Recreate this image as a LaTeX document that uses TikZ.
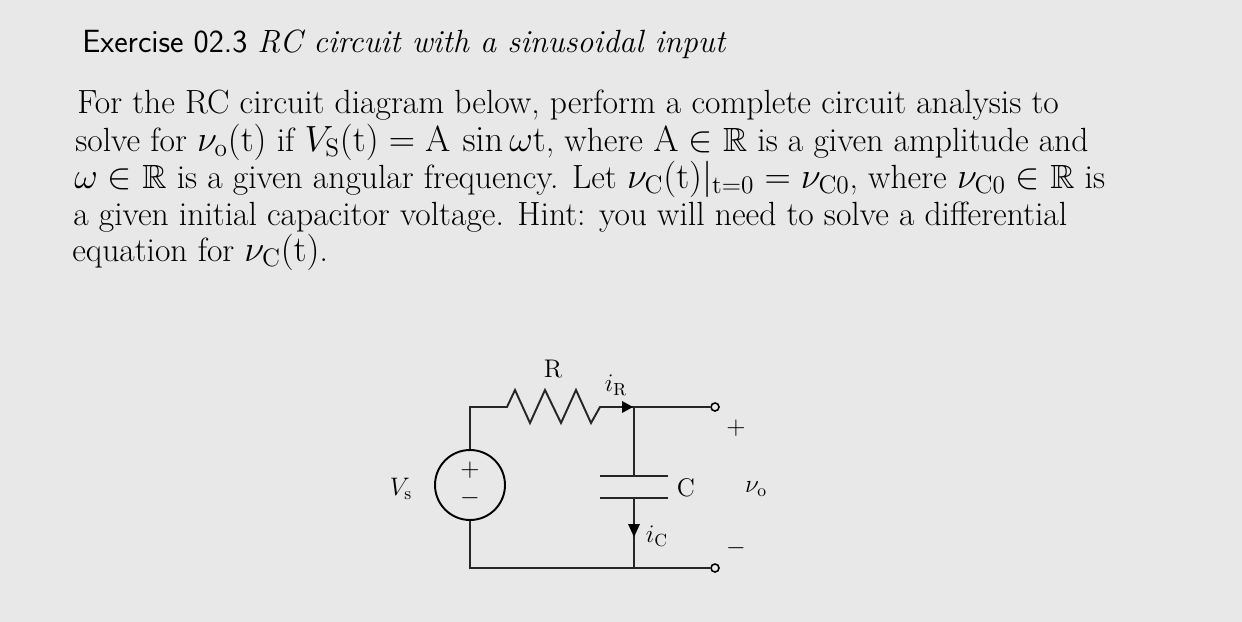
\documentclass[tikz,border=0pt]{standalone}
\usepackage{amssymb}
\begin{document}
\begin{tikzpicture}[x=0.02cm,y=-0.02cm,
  wire/.style={line width=1.1pt,black!85},
  txt/.style={anchor=base west,inner sep=0pt,font=\fontsize{19.1}{21}\selectfont},
  lbl/.style={inner sep=0pt,font=\fontsize{14.5}{16}\selectfont},
  term/.style={circle,draw,line width=0.9pt,minimum size=0.16cm,inner sep=0pt,fill=gray!15}]
\fill[gray!18] (0,0) rectangle (1242,622);
\useasboundingbox (0,0) rectangle (1242,622);
\node[anchor=base west,inner sep=0pt] (title) at (82,52) {\fontsize{18.3}{20}\selectfont\sffamily Exercise 02.3 \rmfamily\itshape RC circuit with a sinusoidal input};
\node[txt] (l1) at (77,113) {For the RC circuit diagram below, perform a complete circuit analysis to};
\node[txt] (l2) at (75,151) {solve for $\nu_{\mathrm o}(\mathrm t)$ if $V_{\mathrm S}(\mathrm t)=\mathrm{A}\,\sin\omega\mathrm t$, where $\mathrm A\in\mathbb R$ is a given amplitude and};
\node[txt] (l3) at (74,188) {$\omega\in\mathbb R$ is a given angular frequency. Let $\nu_{\mathrm C}(\mathrm t)|_{\mathrm t=0}=\nu_{\mathrm{C0}}$, where $\nu_{\mathrm{C0}}\in\mathbb R$ is};
\node[txt] (l4) at (73,225) {a given initial capacitor voltage. Hint: you will need to solve a differential};
\node[txt] (l5) at (72,261) {equation for $\nu_{\mathrm C}(\mathrm t)$.};
% circuit
\coordinate (tl) at (470,407);
\coordinate (bl) at (470,568);
\coordinate (r1) at (507,407);
\coordinate (r2) at (600,407);
\coordinate (jt) at (634,407);
\coordinate (jb) at (634,568);
\coordinate (p1) at (634,476);
\coordinate (p2) at (634,498);
\node[circle,draw,line width=1.1pt,minimum size=1.4cm,inner sep=0pt] (src) at (470,485) {};
\node[lbl] at (470,470) {$+$};
\node[lbl] at (470,498) {$-$};
\node[term] (ot) at (715,407) {};
\node[term] (ob) at (715,568) {};
\draw[wire] (src.north) -- (tl) -- (r1) -- (515,390) -- (530,423) -- (545,390) -- (561,423) -- (576,390) -- (591,423) -- (r2) -- (jt) -- (ot.west);
\draw[wire] (src.south) -- (bl) -- (jb) -- (ob.west);
\draw[wire] (jt) -- (p1);
\draw[wire] (p2) -- (jb);
\draw[wire] (600,476) -- (668,476);
\draw[wire] (600,498) -- (668,498);
\fill (622,401) -- (622,413) -- (633,407) -- cycle;
\fill (628,524) -- (640,524) -- (634,537) -- cycle;
\node[lbl] (Vs) at (401,489) {$V_{\mathrm s}$};
\node[lbl] (R) at (553,369) {R};
\node[lbl] (iR) at (616,385) {$i_{\mathrm R}$};
\node[lbl] (C) at (686,488) {C};
\node[lbl] (iC) at (657,536) {$i_{\mathrm C}$};
\node[lbl] (vo) at (756,489) {$\nu_{\mathrm o}$};
\node[lbl] (pl) at (736,428) {$+$};
\node[lbl] (mi) at (736,548) {$-$};
\end{tikzpicture}
\end{document}
